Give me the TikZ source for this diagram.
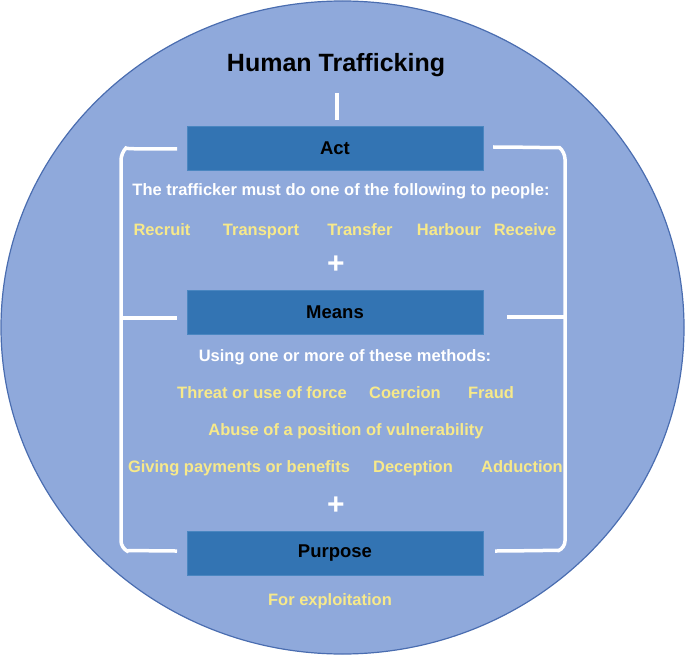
\documentclass[tikz,border=0pt]{standalone}
\usepackage{fontspec}
\setmainfont{Liberation Sans}
\definecolor{circfill}{HTML}{8FA9DB}
\definecolor{circline}{HTML}{4A6DB0}
\definecolor{boxfill}{HTML}{3374B3}
\definecolor{boxline}{HTML}{4A86C0}
\definecolor{yel}{HTML}{F7E98A}
\tikzset{
  hdr/.style={draw=boxline, line width=0.6pt, fill=boxfill, minimum width=296pt, minimum height=44pt, inner sep=0pt, font=\fontsize{18.5}{20}\selectfont\bfseries, text=black},
  wtxt/.style={text=white, font=\fontsize{16.5}{18}\selectfont\bfseries, inner sep=0pt, text height=11.8pt, text depth=0pt},
  ytxt/.style={text=yel, font=\fontsize{16.5}{18}\selectfont\bfseries, inner sep=0pt, text height=11.8pt, text depth=0pt},
  plus/.style={text=white, font=\fontsize{30}{30}\selectfont\bfseries, inner sep=0pt},
  brk/.style={draw=white, line width=3.5pt, rounded corners=7pt},
}
\begin{document}
\begin{tikzpicture}[x=1pt,y=-1pt]
\useasboundingbox (0,0) rectangle (685,655);
\draw[circline, fill=circfill, line width=1.2pt] (342.5,327.5) ellipse [x radius=341.5, y radius=326.5];
\node[font=\fontsize{25}{28}\selectfont\bfseries, inner sep=0pt] (title) at (336,65) {Human Trafficking};
\coordinate (vt) at (337,93);
\node[hdr] (act) at (335,148.5) {Act};
\node[hdr] (means) at (335,312.5) {Means};
\node[hdr] (purpose) at (335,553) {Purpose};
\draw[white, line width=3.5pt] (vt) -- (vt |- 0,120);
% brackets
\coordinate (lt) at (177,149);
\coordinate (lb) at (177,551);
\draw[brk] (lt) .. controls (150,149) and (125,149) .. (121,153) -- (121,548) .. controls (125,550) and (150,551) .. (lb);
\coordinate (lm) at (177,318);
\draw[white, line width=3.5pt] (121,318) -- (lm);
\coordinate (rt) at (493,147);
\coordinate (rb) at (495,551);
\draw[brk] (rt) .. controls (520,147) and (560,148) .. (565,152) -- (565,548) .. controls (560,550) and (520,551) .. (rb);
\coordinate (rm) at (507,317);
\draw[white, line width=3.5pt] (565,317) -- (rm);
% act texts
\node[wtxt] (t1) at (341,190) {The trafficker must do one of the following to people:};
\node[ytxt] (a1) at (162,230) {Recruit};
\node[ytxt] (a2) at (261,230) {Transport};
\node[ytxt] (a3) at (360,230) {Transfer};
\node[ytxt] (a4) at (449,230) {Harbour};
\node[ytxt] (a5) at (525,230) {Receive};
\node[plus] (p1) at (336,265) {+};
% means texts
\node[wtxt] (t2) at (345,356) {Using one or more of these methods:};
\node[ytxt] (m1) at (262,393) {Threat or use of force};
\node[ytxt] (m2) at (405,393) {Coercion};
\node[ytxt] (m3) at (491,393) {Fraud};
\node[ytxt] (m4) at (346,430) {Abuse of a position of vulnerability};
\node[ytxt] (m5) at (239,467) {Giving payments or benefits};
\node[ytxt] (m6) at (413,467) {Deception};
\node[ytxt] (m7) at (522,467) {Adduction};
\node[plus] (p2) at (336,506) {+};
\node[ytxt] (f1) at (330,600) {For exploitation};
\end{tikzpicture}
\end{document}
